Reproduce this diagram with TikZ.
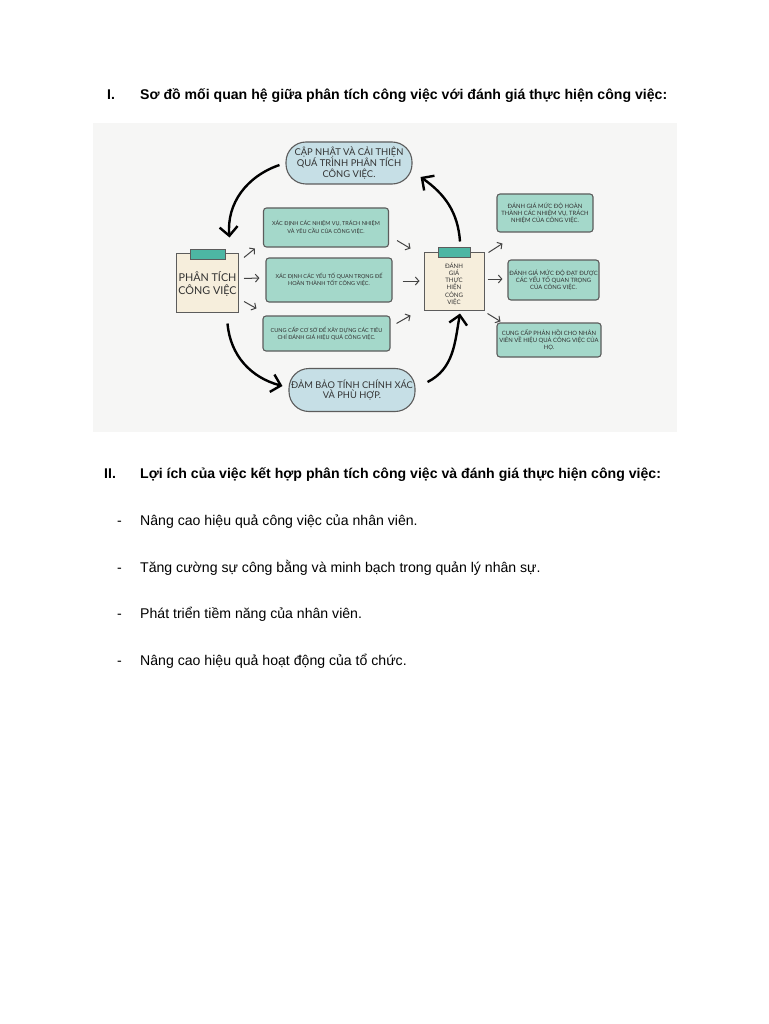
\documentclass[tikz,border=0pt]{standalone}
\usepackage{fontspec}
\setmainfont{Liberation Sans}
\newfontfamily\dfont{Lato}
\usetikzlibrary{arrows.meta,calc}
\definecolor{tealbox}{HTML}{A4D8CA}
\definecolor{tabc}{HTML}{4DB6A3}
\definecolor{pillc}{HTML}{C6DFE6}
\definecolor{clipc}{HTML}{F6EEDC}
\definecolor{bord}{HTML}{5C5C5C}
\definecolor{bgc}{HTML}{F6F6F5}
\definecolor{dtext}{HTML}{333333}
\definecolor{arrc}{HTML}{444444}
\begin{document}
\begin{tikzpicture}[x=1pt,y=-1pt,
  txt/.style={anchor=base west, inner sep=0pt, font=\fontsize{14.1}{17}\selectfont},
  hd/.style={txt, font=\bfseries\fontsize{14.1}{17}\selectfont},
  tbox/.style={draw=bord, line width=1.1pt, fill=tealbox, rounded corners=3pt, inner sep=1pt, align=center, text=dtext, font=\dfont\fontsize{5.5}{7.2}\selectfont},
  rbox/.style={tbox, font=\dfont\fontsize{5.9}{6.9}\selectfont},
  pill/.style={draw=bord, line width=1.1pt, fill=pillc, rounded corners=20pt, inner sep=1pt, align=center, text=dtext},
  clipb/.style={draw=bord, line width=1pt, fill=clipc, inner sep=1pt, align=center, text=dtext},
  tabbox/.style={draw=bord, line width=0.8pt, fill=tabc, inner sep=0pt},
  big/.style={line width=2.4pt, -{Straight Barb[length=9pt,width=18pt]}},
  small/.style={draw=arrc, line width=1pt, -{Straight Barb[length=3.5pt,width=8pt]}}
]
\useasboundingbox[fill=white] (0,0) rectangle (768,1024);
\fill[bgc] (93,123) rectangle (677,432);

% headings and text
\node[hd] (n1) at (107,100) {I.};
\node[hd] (h1) at (140,100) {Sơ đồ mối quan hệ giữa phân tích công việc với đánh giá thực hiện công việc:};
\node[hd] (n2) at (104,478) {II.};
\node[hd] (h2) at (140,478) {Lợi ích của việc kết hợp phân tích công việc và đánh giá thực hiện công việc:};
\node[txt] (d1) at (117,525) {-};
\node[txt] (t1) at (140,525) {Nâng cao hiệu quả công việc của nhân viên.};
\node[txt] (d2) at (117,572) {-};
\node[txt] (t2) at (140,572) {Tăng cường sự công bằng và minh bạch trong quản lý nhân sự.};
\node[txt] (d3) at (117,618) {-};
\node[txt] (t3) at (140,618) {Phát triển tiềm năng của nhân viên.};
\node[txt] (d4) at (117,665) {-};
\node[txt] (t4) at (140,665) {Nâng cao hiệu quả hoạt động của tổ chức.};

% diagram nodes
\node[pill, minimum width=126pt, minimum height=42pt, font=\dfont\fontsize{9.4}{9.9}\selectfont] (cap) at (349,163) {CẬP NHẬT VÀ CẢI THIỆN\\QUÁ TRÌNH PHÂN TÍCH\\CÔNG VIỆC.};
\node[pill, minimum width=126pt, minimum height=43pt, font=\dfont\fontsize{9.3}{10.5}\selectfont] (dam) at (352,390) {ĐẢM BẢO TÍNH CHÍNH XÁC\\VÀ PHÙ HỢP.};

\node[clipb, minimum width=62pt, minimum height=59pt] (pa) at (207.5,282.5) {};
\node[tabbox, minimum width=35pt, minimum height=10pt] (patab) at ($(pa.north)+(0,1.5)$) {};
\node[align=center, inner sep=0pt, text=dtext, font=\dfont\fontsize{10.8}{12.5}\selectfont] (patxt) at ($(pa.center)+(0,1.5)$) {PHÂN TÍCH\\CÔNG VIỆC};
\node[clipb, minimum width=60pt, minimum height=58pt] (dg) at (454,281) {};
\node[tabbox, minimum width=32pt, minimum height=10pt] (dgtab) at ($(dg.north)+(0,1)$) {};
\node[align=center, inner sep=0pt, text=dtext, font=\dfont\fontsize{6.1}{7.3}\selectfont] (dgtxt) at ($(dg.center)+(0,3)$) {ĐÁNH\\GIÁ\\THỰC\\HIỆN\\CÔNG\\VIỆC};

\node[tbox, minimum width=125pt, minimum height=39pt] (b1) at (326,227.5) {XÁC ĐỊNH CÁC NHIỆM VỤ, TRÁCH NHIỆM\\VÀ YÊU CẦU CỦA CÔNG VIỆC.};
\node[tbox, minimum width=126pt, minimum height=44pt] (b2) at (329,280) {XÁC ĐỊNH CÁC YẾU TỐ QUAN TRỌNG ĐỂ\\HOÀN THÀNH TỐT CÔNG VIỆC.};
\node[tbox, minimum width=127pt, minimum height=35pt] (b3) at (326.5,333.5) {CUNG CẤP CƠ SỞ ĐỂ XÂY DỰNG CÁC TIÊU\\CHÍ ĐÁNH GIÁ HIỆU QUẢ CÔNG VIỆC.};

\node[rbox, minimum width=96pt, minimum height=38pt] (r1) at (545,213) {ĐÁNH GIÁ MỨC ĐỘ HOÀN\\THÀNH CÁC NHIỆM VỤ, TRÁCH\\NHIỆM CỦA CÔNG VIỆC.};
\node[rbox, minimum width=91pt, minimum height=40pt] (r2) at (553.5,280) {ĐÁNH GIÁ MỨC ĐỘ ĐẠT ĐƯỢC\\CÁC YẾU TỐ QUAN TRỌNG\\CỦA CÔNG VIỆC.};
\node[rbox, minimum width=104pt, minimum height=34pt] (r3) at (549,340) {CUNG CẤP PHẢN HỒI CHO NHÂN\\VIÊN VỀ HIỆU QUẢ CÔNG VIỆC CỦA\\HỌ.};

% big curved arrows
\draw[big] ($(cap.west)+(-6,2)$) to[out=199, in=95] ($(pa.north)+(22,-15)$);
\draw[big] ($(pa.south)+(20,11)$) to[out=275, in=165] ($(dam.west)+(-6,-4)$);
\draw[big] ($(dam.east)+(12,-8)$) to[out=27, in=260] ($(dg.south)+(6,3)$);
\draw[big] ($(dg.north)+(6,-10)$) to[out=94, in=325] ($(cap.east)+(8,14)$);

% small arrows
\draw[small] ($(pa.north east)+(5,5)$) -- ($(b1.south west)+(-8,1)$);
\draw[small] ($(pa.east)+(5,-4)$) -- ($(b2.west)+(-6,-2)$);
\draw[small] ($(pa.south east)+(5,-11)$) -- ($(b3.north west)+(-6,-7)$);
\draw[small] ($(b1.south east)+(8,-7)$) -- ($(dg.north west)+(-13,-3)$);
\draw[small] ($(b2.east)+(10,1)$) -- ($(dg.west)+(-4,0)$);
\draw[small] ($(b3.north east)+(6,8)$) -- ($(dg.south west)+(-13,5)$);
\draw[small] ($(dg.north east)+(4,1)$) -- ($(r1.south west)+(6,11)$);
\draw[small] ($(dg.east)+(3,-2)$) -- ($(r2.west)+(-5,-1)$);
\draw[small] ($(dg.south east)+(3,3)$) -- ($(r3.north west)+(4,-1)$);
\end{tikzpicture}
\end{document}
